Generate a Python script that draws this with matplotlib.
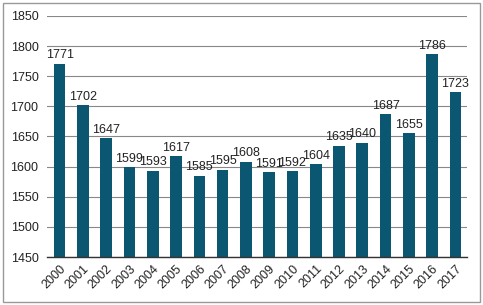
import matplotlib
matplotlib.use("Agg")
import matplotlib.pyplot as plt
from matplotlib.patches import Rectangle

years = [str(y) for y in range(2000, 2018)]
values = [1771, 1702, 1647, 1599, 1593, 1617, 1585, 1595, 1608,
          1591, 1592, 1604, 1635, 1640, 1687, 1655, 1786, 1723]
yticks = [1450, 1500, 1550, 1600, 1650, 1700, 1750, 1800, 1850]

plt.rcParams['font.family'] = ['Liberation Sans', 'DejaVu Sans']

fig = plt.figure(figsize=(4.83, 3.05), dpi=100)
ax = fig.add_axes([0.097, 0.157, 0.870, 0.791])

x = range(len(years))
ax.bar(x, values, width=0.5, color='#0b5670', zorder=3)
for i, v in zip(x, values):
    ax.text(i, v + 4, str(v), ha='center', va='bottom', fontsize=9, color='#222222')

ax.set_ylim(1450, 1850)
ax.set_xlim(-0.55, 17.5)
ax.set_yticks(yticks)
ax.set_xticks(list(x))
ax.set_xticklabels(years, rotation=45, ha='right', rotation_mode='anchor')
ax.tick_params(axis='both', length=0, labelsize=9, colors='#222222')
ax.tick_params(axis='x', pad=4)
ax.tick_params(axis='y', pad=6)
ax.grid(axis='y', color='#888888', linewidth=0.8, zorder=0)
for s in ['left', 'right', 'top']:
    ax.spines[s].set_visible(False)
ax.spines['bottom'].set_color('#333333')
ax.spines['bottom'].set_linewidth(1.0)
ax.spines['bottom'].set_zorder(4)

fig.patches.append(Rectangle((0.006, 0.01), 0.988, 0.98, transform=fig.transFigure,
                             fill=False, edgecolor='#999999', linewidth=1.0))

fig.savefig('out.png', dpi=100)
